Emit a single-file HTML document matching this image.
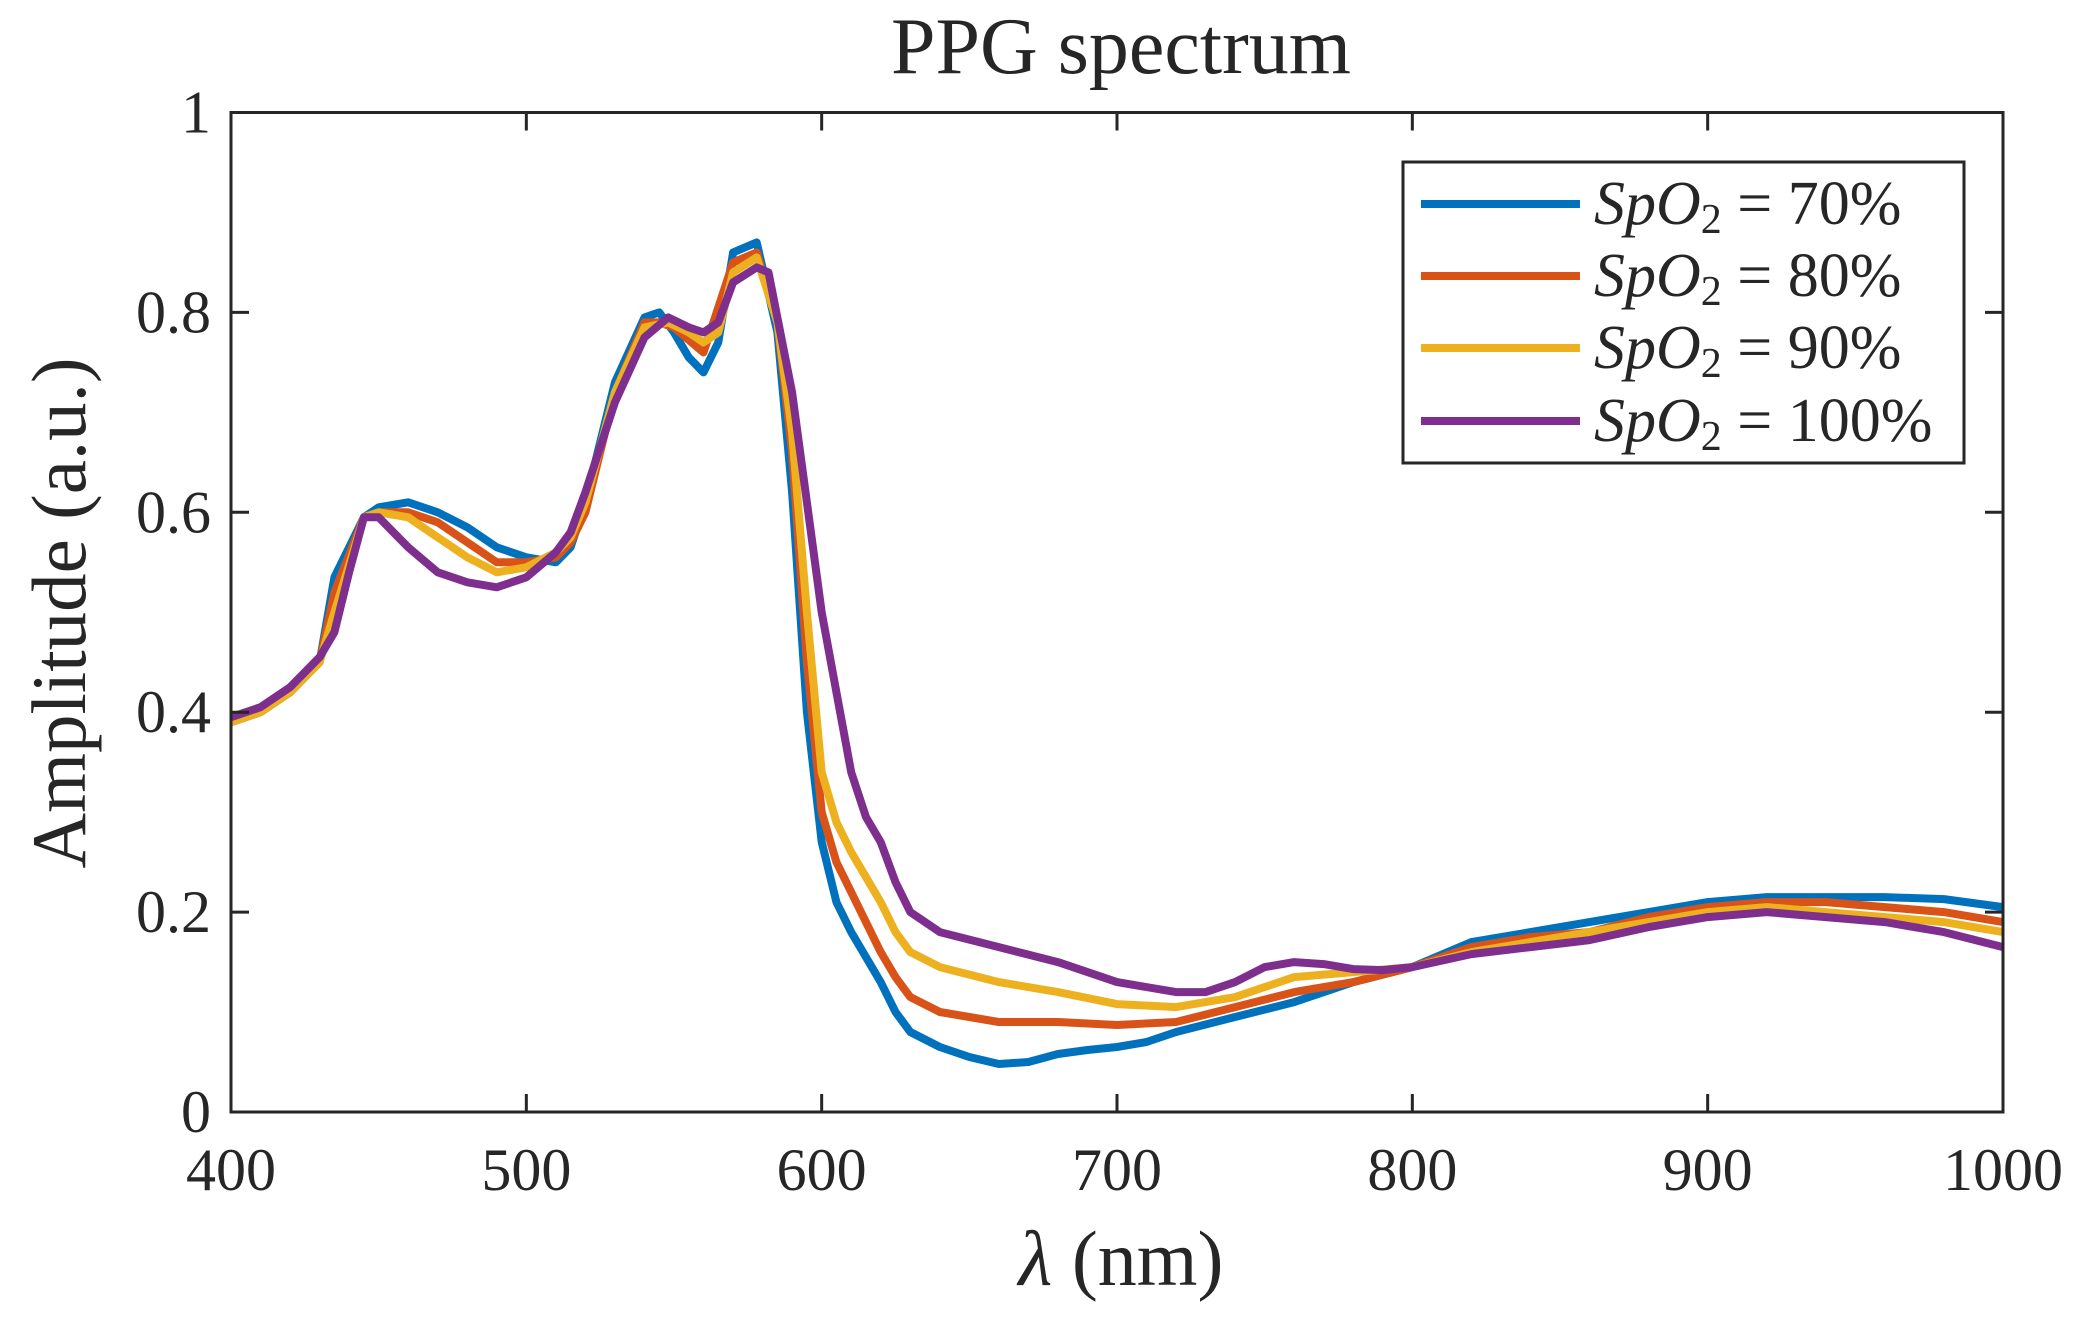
<!DOCTYPE html>
<html><head><meta charset="utf-8"><style>
html,body{margin:0;padding:0;background:#fff;}
svg text{font-family:"Liberation Serif",serif;fill:#262626;}
</style></head><body>
<svg id="chart" width="2081" height="1317" viewBox="0 0 2081 1317" xmlns="http://www.w3.org/2000/svg">
<rect width="2081" height="1317" fill="#fff"/>
<text x="1121" y="73" font-size="80" text-anchor="middle">PPG spectrum</text>
<g id="lines"></g>
<g id="axes"></g>
<text x="1121" y="1285" font-size="78" text-anchor="middle"><tspan font-style="italic">λ</tspan> (nm)</text>
<text transform="translate(85,613) rotate(-90)" font-size="77" text-anchor="middle">Amplitude (a.u.)</text>
<g id="legend"></g>
</svg>
<script>
const lam70=[400,410,420,430,435,445,450,460,470,480,490,500,510,515,520,530,540,545,550,555,560,565,570,578,585,590,595,600,605,610,620,625,630,640,650,660,670,680,690,700,710,720,740,760,780,800,820,840,860,880,900,920,940,960,980,1000];
const val70=[0.39,0.40,0.42,0.45,0.535,0.595,0.605,0.61,0.60,0.585,0.565,0.555,0.55,0.565,0.61,0.73,0.795,0.80,0.78,0.755,0.74,0.77,0.86,0.87,0.78,0.62,0.40,0.27,0.21,0.18,0.13,0.10,0.08,0.065,0.055,0.048,0.05,0.058,0.062,0.065,0.07,0.08,0.095,0.11,0.13,0.145,0.17,0.18,0.19,0.20,0.21,0.215,0.215,0.215,0.213,0.205];
const lam80=[400,410,420,430,435,445,450,460,470,480,490,500,510,515,520,530,540,545,550,560,570,578,585,590,595,600,605,610,620,625,630,640,650,660,680,700,720,740,760,780,800,820,840,860,880,900,920,940,960,980,1000];
const val80=[0.39,0.40,0.42,0.45,0.52,0.595,0.60,0.60,0.59,0.57,0.55,0.55,0.555,0.57,0.60,0.72,0.79,0.79,0.785,0.76,0.85,0.86,0.79,0.66,0.45,0.30,0.25,0.22,0.16,0.135,0.115,0.10,0.095,0.09,0.09,0.087,0.09,0.105,0.12,0.13,0.145,0.165,0.175,0.18,0.195,0.205,0.21,0.21,0.205,0.20,0.19];
const lam90=[400,410,420,430,435,445,450,460,470,480,490,500,510,515,520,530,540,548,555,560,565,570,578,585,590,595,600,605,610,620,625,630,640,660,680,700,720,740,760,780,800,820,840,860,880,900,920,940,960,980,1000];
const val90=[0.39,0.40,0.42,0.45,0.50,0.595,0.60,0.595,0.575,0.555,0.54,0.545,0.56,0.575,0.61,0.72,0.785,0.79,0.78,0.77,0.78,0.84,0.855,0.79,0.68,0.50,0.34,0.29,0.26,0.21,0.18,0.16,0.145,0.13,0.12,0.108,0.105,0.115,0.135,0.14,0.145,0.16,0.17,0.18,0.19,0.20,0.205,0.20,0.195,0.19,0.18];
const lam100=[400,410,420,430,435,440,445,450,455,460,470,480,490,500,510,515,520,530,540,548,555,560,565,570,578,582,590,600,605,610,615,620,625,630,640,660,680,700,720,730,740,750,760,770,780,790,800,820,840,860,880,900,920,940,960,980,1000];
const val100=[0.395,0.405,0.425,0.455,0.48,0.54,0.595,0.595,0.58,0.565,0.54,0.53,0.525,0.535,0.56,0.58,0.62,0.71,0.775,0.795,0.785,0.78,0.79,0.83,0.845,0.84,0.72,0.50,0.42,0.34,0.295,0.27,0.23,0.20,0.18,0.165,0.15,0.13,0.12,0.12,0.13,0.145,0.15,0.148,0.143,0.142,0.145,0.158,0.165,0.172,0.185,0.195,0.20,0.195,0.19,0.18,0.165];
const seriesNames=["SpO2 = 70%","SpO2 = 80%","SpO2 = 90%","SpO2 = 100%"];
const legendPct=["70%","80%","90%","100%"];
const xTicks=[400,500,600,700,800,900,1000];
const yTicks=[0,0.2,0.4,0.6,0.8,1];
const yTickLabels=["0","0.2","0.4","0.6","0.8","1"];

const L=231,R=2003,T=112.5,B=1112;
const xs=v=>L+(v-400)/600*(R-L);
const ys=v=>B-v*(B-T);
const NS="http://www.w3.org/2000/svg";
const colors=["#0072BD","#D95319","#EDB120","#7E2F8E"];
const data=[[lam70,val70],[lam80,val80],[lam90,val90],[lam100,val100]];
const lg=document.getElementById('lines');
data.forEach((d,i)=>{
  const p=document.createElementNS(NS,'polyline');
  p.setAttribute('points',d[0].map((x,j)=>xs(x).toFixed(1)+','+ys(d[1][j]).toFixed(1)).join(' '));
  p.setAttribute('fill','none');p.setAttribute('stroke',colors[i]);p.setAttribute('stroke-width','8');
  p.setAttribute('stroke-linejoin','round');
  
  
  lg.appendChild(p);
});
const ax=document.getElementById('axes');
function add(tag,attrs,parent){const e=document.createElementNS(NS,tag);for(const k in attrs)e.setAttribute(k,attrs[k]);(parent||ax).appendChild(e);return e;}
const box=add('rect',{x:L,y:T,width:R-L,height:B-T,fill:'none',stroke:'#262626','stroke-width':3});


xTicks.forEach(v=>{
  const x=xs(v);
  add('line',{x1:x,x2:x,y1:B,y2:B-18,stroke:'#262626','stroke-width':3});
  add('line',{x1:x,x2:x,y1:T,y2:T+18,stroke:'#262626','stroke-width':3});
  const t=add('text',{x:x,y:B+78,'font-size':60,'text-anchor':'middle'});
  t.textContent=v;
  
  
});
yTicks.forEach((v,i)=>{
  const y=ys(v);
  add('line',{x1:L,x2:L+18,y1:y,y2:y,stroke:'#262626','stroke-width':3});
  add('line',{x1:R,x2:R-18,y1:y,y2:y,stroke:'#262626','stroke-width':3});
  const t=add('text',{x:L-20,y:y+20,'font-size':60,'text-anchor':'end'});
  t.textContent=yTickLabels[i];
  
  
});
const leg=document.getElementById('legend');
const lb=add('rect',{x:1403,y:162,width:561,height:301,fill:'#fff',stroke:'#262626','stroke-width':3},leg);


[204,276,348,421].forEach((y,i)=>{
  const g=add('g',{},leg);
  
  
  add('line',{x1:1421,x2:1580,y1:y,y2:y,stroke:colors[i],'stroke-width':8},g);
  const t=add('text',{x:1594,y:y+20,'font-size':62},g);
  t.innerHTML='<tspan font-style="italic">SpO</tspan><tspan font-size="42" dy="9">2</tspan><tspan dy="-9"> = '+legendPct[i]+'</tspan>';
});
</script>
</body></html>
